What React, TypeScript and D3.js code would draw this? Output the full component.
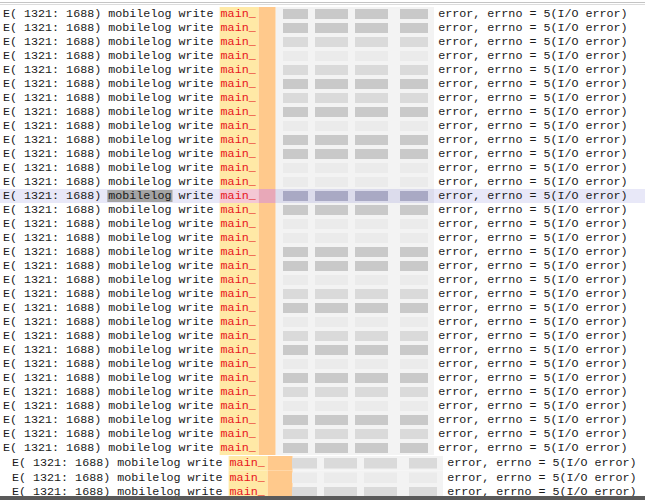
import * as d3 from "d3";

// log lines (one per row)
const mainRows = d3.range(32);
const extraRows = d3.range(3);
const prefix = "E( 1321: 1688)";
const tag = "mobilelog";
const verb = "write";
const target = "main_";
const tail = "error, errno = 5(I/O error)";
const highlightRow = 13;
// blur intensity per row (0 light .. 2 dark)
const rowShade = [2, 2, 1, 0, 1, 2, 1, 2, 0, 2, 2, 0, 0, 2, 2, 0, 0, 2, 2, 0, 1, 2, 0, 1, 2, 0, 2, 1, 0, 2, 1, 2, 1, 0, 1];

const W = 645, H = 500;
const charW = 7.02;
const shadeColor = ["#ebebeb", "#dadada", "#c9c9c9"];
const blurBlocks: [number, number][] = [[283, 308], [315, 348], [355, 388], [400, 428]];

const App = () => {
  const y = d3.scaleBand<number>().domain(mainRows).range([7, 7 + 14 * mainRows.length]);
  const y2 = d3.scaleBand<number>().domain(extraRows).range([456, 456 + 14.5 * extraRows.length]);
  const col = d3.scaleLinear().domain([0, 1]).range([3, 3 + charW]);

  const row = (i: number, top: number, h: number, dx: number, shade: number, hl: boolean) => {
    const cy = top + h / 2;
    const x = (c: number) => col(c) + dx;
    return (
      <g key={`${top}`}>
        {hl && <rect x={0} y={top} width={W} height={h} fill="#e8e8f8" />}
        <rect x={x(31) - 1} y={top} width={x(36) + 4 - x(31)} height={h} fill={hl ? "#f4c8d4" : "#ffe9a6"} />
        <rect x={x(36) + 3} y={top} width={17 + (dx ? 8 : 0)} height={h} fill={hl ? "#e8a8b8" : "#ffc98c"} />
        <rect x={x(36) + 20 + (dx ? 8 : 0)} y={top} width={434 - (x(36) + 20) - (dx ? 8 : 0) + dx} height={h} fill={hl ? "#dcdcec" : "#f3f3f3"} />
        {blurBlocks.map(([a, b], k) => (
          <rect key={k} x={a + dx} y={top + 2} width={b - a} height={h - 4}
            fill={hl ? "#a9a9c4" : shadeColor[(shade + k) % 3 === 0 && k === 3 ? 0 : shade]} />
        ))}
        {hl && <rect x={x(15) - 1} y={top + 1} width={charW * 9 + 2} height={h - 2} fill="#a4a4a4" />}
        <text x={x(0)} y={cy} dominantBaseline="central" fill="#1a1a1a">
          {prefix}
        </text>
        <text x={x(15)} y={cy} dominantBaseline="central" fill="#1a1a1a">{tag}</text>
        <text x={x(25)} y={cy} dominantBaseline="central" fill="#1a1a1a">{verb}</text>
        <text x={x(31)} y={cy} dominantBaseline="central" fill="#e8141c">{target}</text>
        <text x={x(62)} y={cy} dominantBaseline="central" fill="#1a1a1a">{tail}</text>
      </g>
    );
  };

  return (
    <svg width={W} height={H} style={{ position: "absolute", left: 0, top: 0, background: "#fff" }}
      fontFamily="'Liberation Mono', monospace" fontSize={11.7}>
      <rect x={0} y={0} width={W} height={H} fill="#ffffff" />
      <rect x={0} y={2} width={W} height={1} fill="#c4c4c4" />
      <rect x={0} y={4} width={W} height={1} fill="#dcdcdc" />
      {mainRows.map(i => row(i, y(i)!, y.bandwidth(), 0, rowShade[i], i === highlightRow))}
      {extraRows.map(i => row(i, y2(i)!, y2.bandwidth(), 9, rowShade[32 + i], false))}
      <rect x={0} y={496} width={W} height={4} fill="#5a5a5a" />
    </svg>
  );
};

export default App;
